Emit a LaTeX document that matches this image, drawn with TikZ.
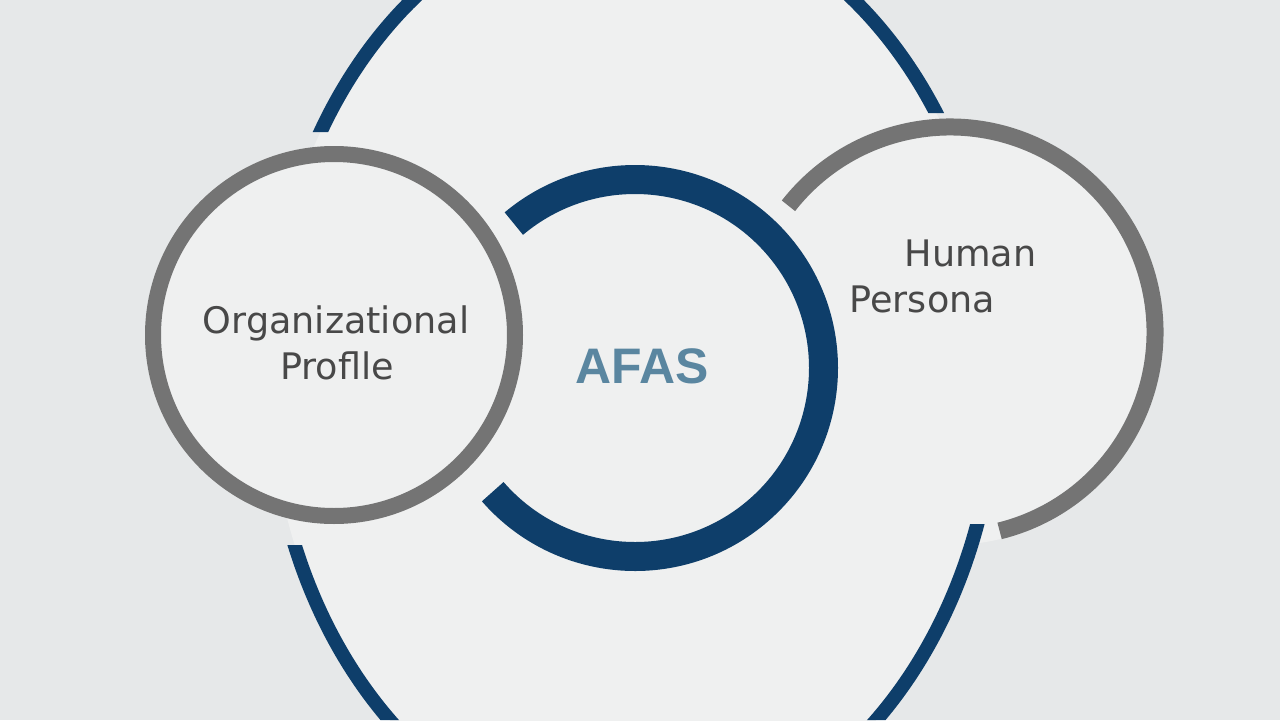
\documentclass[tikz,border=0pt]{standalone}
\usepackage{fontspec}
\setmainfont{DejaVu Sans}
\newfontfamily\afasfont{Liberation Sans}
\usepackage{xcolor}
\definecolor{navy}{RGB}{14,62,106}
\definecolor{ringgray}{RGB}{116,116,116}
\definecolor{textgray}{RGB}{72,72,72}
\definecolor{afasblue}{RGB}{90,134,160}
\definecolor{bgout}{RGB}{230,232,233}
\definecolor{bgin}{RGB}{239,240,240}

\begin{document}
\begin{tikzpicture}[x=0.1mm,y=0.1mm,
    bigring/.style={navy,line width=1.4mm},
    sidering/.style={ringgray,line width=1.6mm},
    ringtext/.style={textgray,inner sep=0pt,font=\fontsize{10.4pt}{12pt}\selectfont}]
    \useasboundingbox (0,0) rectangle (1280,720);
    \clip (0,0) rectangle (1280,720);
    \fill [bgout] (0,0) rectangle (1280,720);

    \coordinate (outer) at (633,348);
    \coordinate (org) at (334,385);
    \coordinate (afas) at (635,352);
    \coordinate (human) at (950,388);

    \fill [bgin] (outer) ellipse [x radius=36.4mm, y radius=46.8mm];
    \fill [bgin] (org) circle [radius=18.9mm];
    \fill [bgin] (human) circle [radius=21.3mm];

    \begin{scope}
      \clip (0,588) rectangle (633,720) (633,607) rectangle (1280,720)
            (0,0) rectangle (633,175) (633,0) rectangle (1280,196);
      \draw [bigring] (outer) ellipse [x radius=36.4mm, y radius=46.8mm];
    \end{scope}

    \draw [sidering] (org) circle [radius=18.1mm];
    \draw [sidering, line width=1.7mm] (human) ++(-76:20.5mm)
      arc [start angle=-76, end angle=142, radius=20.5mm];
    \draw [navy, line width=2.9mm] (afas) ++(-139:18.85mm)
      arc [start angle=-139, end angle=130, radius=18.85mm];

    \node [ringtext, anchor=base] (orgtop) at (336,387) {Organizational};
    \node [ringtext, anchor=base] (orgbottom) at (337,341) {Proflle};
    \node [ringtext, anchor=base west] (humantop) at (904,454) {Human};
    \node [ringtext, anchor=base west] (humanbottom) at (849,408) {Persona};
    \node [afasblue, inner sep=0pt, anchor=base,
      font=\afasfont\bfseries\fontsize{14.2pt}{16pt}\selectfont] (afaslabel) at (642,337) {AFAS};
\end{tikzpicture}
\end{document}
